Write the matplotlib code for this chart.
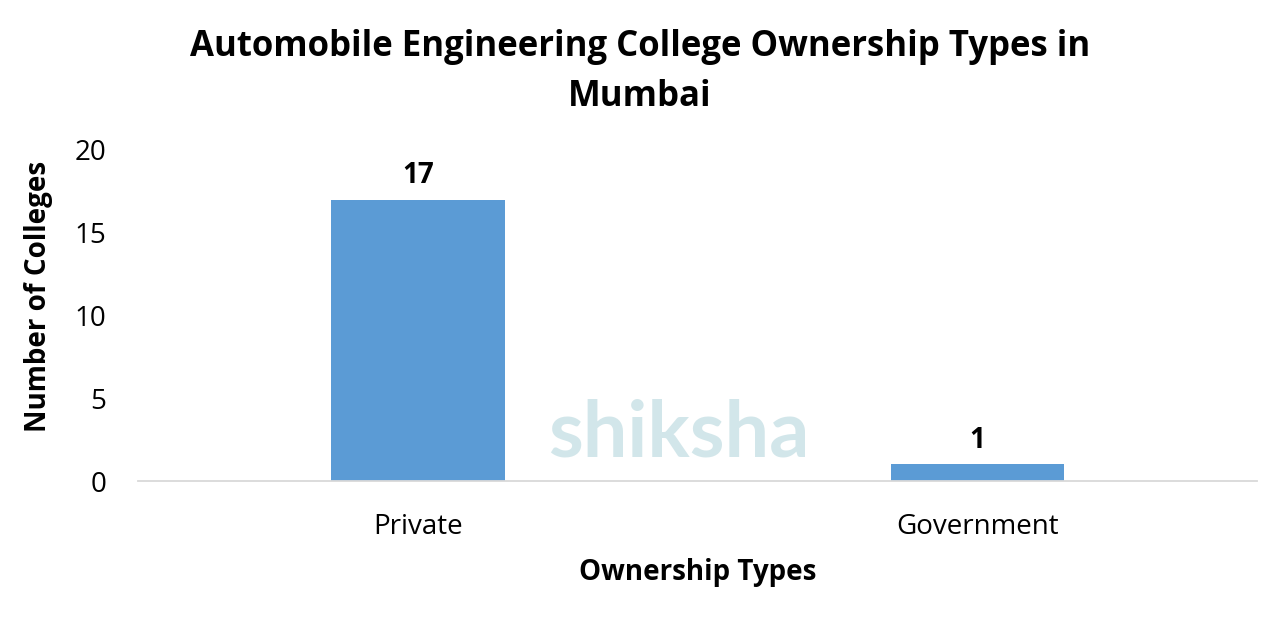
import matplotlib.pyplot as plt

plt.rcParams['font.family'] = ['Open Sans', 'DejaVu Sans']

# data
ownership_types = ['Private', 'Government']
num_colleges = [17, 1]
y_ticks = [0, 5, 10, 15, 20]

fig = plt.figure(figsize=(12.8, 6.17), dpi=100)
ax = fig.add_axes([0.108, 0.2204, 0.874, 0.5366])

x = range(len(ownership_types))
bars = ax.bar(x, num_colleges, width=0.31, color='#5b9bd5', zorder=2)

for b, v in zip(bars, num_colleges):
    ax.text(b.get_x() + b.get_width() / 2, v + 0.6, str(v),
            ha='center', va='bottom', fontsize=20, fontweight='bold', color='#000000')

ax.set_xlim(-0.5, 1.5)
ax.set_ylim(0, 20)
ax.set_yticks(y_ticks)
ax.set_xticks(list(x))
ax.set_xticklabels(ownership_types)
ax.tick_params(axis='both', length=0, labelsize=20, colors='#000000')
ax.tick_params(axis='x', pad=23)
ax.tick_params(axis='y', pad=23)

for s in ['top', 'right', 'left']:
    ax.spines[s].set_visible(False)
ax.spines['bottom'].set_color('#d9d9d9')
ax.spines['bottom'].set_linewidth(1.3)

ax.set_xlabel('Ownership Types', fontsize=20, fontweight='bold', labelpad=12)
ax.set_ylabel('Number of Colleges', fontsize=20, fontweight='bold')
ax.yaxis.set_label_coords(-0.076, 0.556)

fig.text(0.5, 0.883, 'Automobile Engineering College Ownership Types in\nMumbai',
         ha='center', va='center', fontsize=25, fontweight='bold', linespacing=1.5)

# watermark
fig.text(0.53, 0.295, 'shiksha', fontsize=57, fontweight='bold', color='#b5d6dc',
         alpha=0.6, ha='center', va='center', family=['Lato', 'DejaVu Sans'], zorder=10)

fig.savefig('out.png', dpi=100)
